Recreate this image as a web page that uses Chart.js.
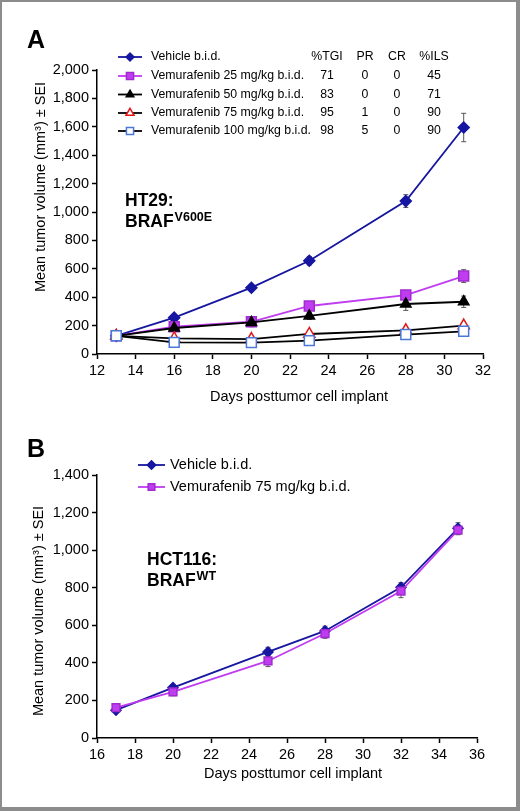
<!DOCTYPE html>
<html>
<head>
<meta charset="utf-8">
<script src="https://cdn.jsdelivr.net/npm/chart.js@4.4.1/dist/chart.umd.min.js"></script>
<style>
body { margin: 0; background: #fff; }
#wrap { position: relative; width: 520px; height: 811px; background: #fff; overflow: hidden; }
canvas { position: absolute; left: 0; }
#frame { position: absolute; left: 0; top: 0; width: 520px; height: 811px; box-sizing: border-box;
  border: 2px solid #8c8c8c; border-right-width: 4px; border-bottom-width: 4px; pointer-events: none; }
</style>
</head>
<body>
<div id="wrap">
  <canvas id="chartA" width="520" height="420" style="top:0"></canvas>
  <canvas id="chartB" width="520" height="391" style="top:420px"></canvas>
  <div id="frame"></div>
</div>
<script>
// ---- panel A data (HT29) ----
var daysA = [13, 16, 20, 23, 28, 31]
var vehicleA = [128, 256, 467, 657, 1077, 1595]
var vehicleAErr = [0, 12, 20, 30, 45, 100]
var vem25A = [128, 192, 227, 338, 415, 549]
var vem25AErr = [0, 15, 18, 25, 25, 45]
var vem50A = [128, 183, 222, 268, 352, 368]
var vem50AErr = [0, 15, 30, 25, 45, 40]
var vem75A = [128, 110, 105, 141, 167, 200]
var vem75AErr = [0, 10, 10, 12, 12, 15]
var vem100A = [128, 82, 80, 94, 137, 160]
var vem100AErr = [0, 8, 8, 8, 10, 10]
var xTicksA = [12, 14, 16, 18, 20, 22, 24, 26, 28, 30, 32]
var yTicksA = [0, 200, 400, 600, 800, 1000, 1200, 1400, 1600, 1800, 2000]
var labelsA = ["Vehicle b.i.d.", "Vemurafenib 25 mg/kg b.i.d.", "Vemurafenib 50 mg/kg b.i.d.",
               "Vemurafenib 75 mg/kg b.i.d.", "Vemurafenib 100 mg/kg b.i.d."]
var tableHead = ["%TGI", "PR", "CR", "%ILS"]
var tableRows = [["", "", "", ""], ["71", "0", "0", "45"], ["83", "0", "0", "71"],
                 ["95", "1", "0", "90"], ["98", "5", "0", "90"]]

// ---- panel B data (HCT116) ----
var daysB = [17, 20, 25, 28, 32, 35]
var vehicleB = [148, 268, 458, 570, 802, 1116]
var vehicleBErr = [10, 15, 25, 25, 25, 30]
var vem75B = [162, 245, 410, 556, 782, 1107]
var vem75BErr = [10, 20, 30, 25, 35, 25]
var xTicksB = [16, 18, 20, 22, 24, 26, 28, 30, 32, 34, 36]
var yTicksB = [0, 200, 400, 600, 800, 1000, 1200, 1400]
var labelsB = ["Vehicle b.i.d.", "Vemurafenib 75 mg/kg b.i.d."]

var FONT = "'Liberation Sans', Arial, Helvetica, sans-serif"
var yTitle = "Mean tumor volume (mm\u00b3) \u00b1 SEI"
var xTitle = "Days posttumor cell implant"

function pts(xs, ys) { return xs.map(function (x, i) { return { x: x, y: ys[i] } }) }

function drawMarker(ctx, ds, x, y, k) {
  ctx.save()
  ctx.fillStyle = ds.pointBackgroundColor
  ctx.strokeStyle = ds.pointBorderColor
  ctx.lineWidth = ds.pointBorderWidth
  Chart.helpers.drawPoint(ctx, { pointStyle: ds.pointStyle, radius: ds.pointRadius * k, borderWidth: ds.pointBorderWidth, rotation: 0 }, x, y)
  ctx.restore()
}

var errorBars = {
  id: 'errorBars',
  beforeDatasetsDraw: function (chart) {
    var ctx = chart.ctx, xs = chart.scales.x, ys = chart.scales.y
    ctx.save()
    ctx.strokeStyle = '#555'
    ctx.lineWidth = 1
    chart.data.datasets.forEach(function (ds) {
      (ds.err || []).forEach(function (e, i) {
        if (!e) return
        var p = ds.data[i], px = xs.getPixelForValue(p.x)
        var top = ys.getPixelForValue(p.y + e), bot = ys.getPixelForValue(p.y - e)
        ctx.beginPath()
        ctx.moveTo(px, top); ctx.lineTo(px, bot)
        ctx.moveTo(px - 2.5, top); ctx.lineTo(px + 2.5, top)
        ctx.moveTo(px - 2.5, bot); ctx.lineTo(px + 2.5, bot)
        ctx.stroke()
      })
    })
    ctx.restore()
  }
}

var annotations = {
  id: 'annotations',
  afterDraw: function (chart, args, o) {
    var ctx = chart.ctx
    ctx.save()
    ctx.fillStyle = '#000'
    // panel letter
    ctx.font = 'bold 25px ' + FONT
    ctx.textBaseline = 'middle'
    ctx.textAlign = 'left'
    ctx.fillText(o.letter, 27, o.letterY)
    // axis titles
    ctx.font = '14.5px ' + FONT
    ctx.textAlign = 'center'
    ctx.fillText(xTitle, o.xTitle[0], o.xTitle[1])
    ctx.save()
    ctx.translate(o.yTitle[0], o.yTitle[1])
    ctx.rotate(-Math.PI / 2)
    ctx.fillText(yTitle, 0, 0)
    ctx.restore()
    // cell line label
    ctx.textAlign = 'left'
    ctx.textBaseline = 'alphabetic'
    ctx.font = 'bold 17.5px ' + FONT
    ctx.fillText(o.line1, o.lab[0], o.lab[1])
    ctx.fillText('BRAF', o.lab[0], o.lab[1] + 21)
    var w = ctx.measureText('BRAF').width
    ctx.font = 'bold 12.5px ' + FONT
    ctx.fillText(o.sup, o.lab[0] + w + 1, o.lab[1] + 15)
    // legend
    var L = o.legend
    ctx.font = L.font + 'px ' + FONT
    ctx.textBaseline = 'middle'
    chart.data.datasets.forEach(function (ds, i) {
      var y = L.rows[i]
      ctx.strokeStyle = ds.borderColor
      ctx.lineWidth = ds.borderWidth
      ctx.beginPath(); ctx.moveTo(L.x1, y); ctx.lineTo(L.x2, y); ctx.stroke()
      drawMarker(ctx, ds, (L.x1 + L.x2) / 2, y, L.k)
      ctx.fillStyle = '#000'
      ctx.textAlign = 'left'
      ctx.fillText(ds.label, L.tx, y)
    })
    if (L.cols) {
      ctx.textAlign = 'center'
      tableHead.forEach(function (h, j) { ctx.fillText(h, L.cols[j], L.rows[0]) })
      tableRows.forEach(function (r, i) {
        r.forEach(function (v, j) { if (v) ctx.fillText(v, L.cols[j], L.rows[i]) })
      })
    }
    ctx.restore()
  }
}

function axis(ticks, size) {
  return {
    type: 'linear',
    min: ticks[0],
    max: ticks[ticks.length - 1],
    afterBuildTicks: function (s) { s.ticks = ticks.map(function (v) { return { value: v } }) },
    afterFit: function (s) { if (s.isHorizontal()) s.height = size; else s.width = size },
    ticks: { color: '#000', font: { family: FONT, size: 14.5 }, padding: 3, autoSkip: false, maxRotation: 0 },
    grid: { drawOnChartArea: false, drawTicks: true, tickLength: 5, tickWidth: 1.5, tickColor: '#000' },
    border: { display: true, color: '#000', width: 1.5 }
  }
}

function series(label, data, err, line, style, radius, fill, edge, order) {
  return {
    label: label, data: data, err: err, order: order,
    borderColor: line, backgroundColor: line, borderWidth: 1.8,
    pointStyle: style, pointRadius: radius, pointHoverRadius: radius,
    pointBackgroundColor: fill, pointBorderColor: edge, pointBorderWidth: 1.5,
    tension: 0, fill: false
  }
}

new Chart(document.getElementById('chartA').getContext('2d'), {
  type: 'line',
  data: {
    datasets: [
      series(labelsA[0], pts(daysA, vehicleA), vehicleAErr, '#1616a0', 'rectRot', 5.5, '#1616a0', '#1616a0', 5),
      series(labelsA[1], pts(daysA, vem25A), vem25AErr, '#c03cf0', 'rect', 7, '#c03cf0', '#a02ad0', 4),
      series(labelsA[2], pts(daysA, vem50A), vem50AErr, '#000', 'triangle', 6, '#000', '#000', 3),
      series(labelsA[3], pts(daysA, vem75A), vem75AErr, '#000', 'triangle', 6.5, '#fff', '#e01818', 2),
      series(labelsA[4], pts(daysA, vem100A), vem100AErr, '#000', 'rect', 7, '#fff', '#4a78d8', 1)
    ]
  },
  options: {
    responsive: false, animation: false,
    layout: { padding: { left: 0, top: 70, right: 37, bottom: 0 } },
    scales: { x: axis(xTicksA, 66), y: axis(yTicksA, 97) },
    plugins: {
      legend: { display: false }, tooltip: { enabled: false },
      annotations: {
        letter: 'A', letterY: 41,
        xTitle: [299, 397], yTitle: [41, 187],
        line1: 'HT29:', sup: 'V600E', lab: [125, 206],
        legend: { font: 12.3, k: 0.72, x1: 118, x2: 142, tx: 151, rows: [57, 76, 94.5, 113, 131], cols: [327, 365, 397, 434] }
      }
    }
  },
  plugins: [errorBars, annotations]
})

new Chart(document.getElementById('chartB').getContext('2d'), {
  type: 'line',
  data: {
    datasets: [
      series(labelsB[0], pts(daysB, vehicleB), vehicleBErr, '#1616a0', 'rectRot', 5, '#1616a0', '#1616a0', 2),
      series(labelsB[1], pts(daysB, vem75B), vem75BErr, '#c03cf0', 'rect', 5.5, '#c03cf0', '#a02ad0', 1)
    ]
  },
  options: {
    responsive: false, animation: false,
    layout: { padding: { left: 0, top: 55, right: 43, bottom: 0 } },
    scales: { x: axis(xTicksB, 73), y: axis(yTicksB, 97) },
    plugins: {
      legend: { display: false }, tooltip: { enabled: false },
      annotations: {
        letter: 'B', letterY: 30,
        xTitle: [293, 354], yTitle: [39, 191],
        line1: 'HCT116:', sup: 'WT', lab: [147, 145],
        legend: { font: 14.5, k: 0.85, x1: 138, x2: 165, tx: 170, rows: [45, 67] }
      }
    }
  },
  plugins: [errorBars, annotations]
})
</script>
</body>
</html>
